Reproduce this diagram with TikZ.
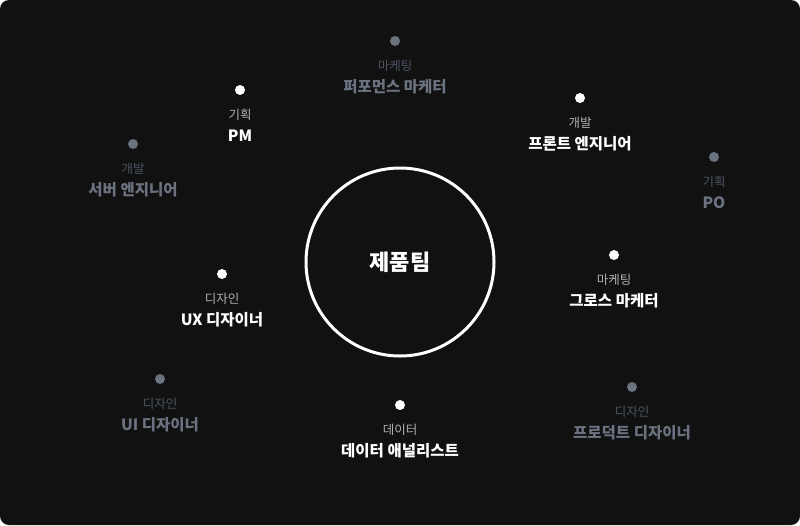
\documentclass[tikz,border=0pt]{standalone}
\usepackage{fontspec}
\setmainfont{Noto Sans CJK KR}
\usetikzlibrary{positioning}

\definecolor{boardBg}{HTML}{111111}
\definecolor{dimDot}{HTML}{6B7280}
\definecolor{dimCat}{HTML}{4B5361}
\definecolor{dimTitle}{HTML}{6B7280}
\definecolor{liveCat}{HTML}{B0B0B0}

\tikzset{
    dotOn/.style={circle, fill=white, inner sep=0pt, minimum size=10pt},
    dotOff/.style={dotOn, fill=dimDot},
    catOn/.style={font=\fontsize{12.5}{12.5}\selectfont, text=liveCat, inner sep=0pt, text height=10pt, text depth=2pt},
    catOff/.style={catOn, text=dimCat},
    titleOn/.style={font=\fontsize{15.5}{15.5}\selectfont\bfseries, text=white, inner sep=0pt, text height=12pt, text depth=2.5pt},
    titleOff/.style={titleOn, text=dimTitle},
    teamCircle/.style={circle, draw=white, line width=3pt, minimum size=188pt, font=\fontsize{22}{22}\selectfont\bfseries, text=white}
}

\begin{document}
\begin{tikzpicture}[x=1pt, y=-1pt]
    \fill[white] (0,0) rectangle (800,525);
    \fill[boardBg, rounded corners=9pt] (0,0) rectangle (800,525);

    \node[teamCircle] (ProductTeam) at (400,262) {제품팀};

    \node[dotOff] (PerfDot) at (395,41) {};
    \node[catOff, below=14pt of PerfDot] (PerfCat) {마케팅};
    \node[titleOff, below=8pt of PerfCat] (Perf) {퍼포먼스 마케터};

    \node[dotOn] (PmDot) at (240,90) {};
    \node[catOn, below=14pt of PmDot] (PmCat) {기획};
    \node[titleOn, below=8pt of PmCat] (Pm) {PM};

    \node[dotOn] (FrontDot) at (580,98) {};
    \node[catOn, below=14pt of FrontDot] (FrontCat) {개발};
    \node[titleOn, below=8pt of FrontCat] (Front) {프론트 엔지니어};

    \node[dotOff] (ServerDot) at (133,144) {};
    \node[catOff, below=14pt of ServerDot] (ServerCat) {개발};
    \node[titleOff, below=8pt of ServerCat] (Server) {서버 엔지니어};

    \node[dotOff] (PoDot) at (714,157) {};
    \node[catOff, below=14pt of PoDot] (PoCat) {기획};
    \node[titleOff, below=8pt of PoCat] (Po) {PO};

    \node[dotOn] (GrowthDot) at (614,255) {};
    \node[catOn, below=14pt of GrowthDot] (GrowthCat) {마케팅};
    \node[titleOn, below=8pt of GrowthCat] (Growth) {그로스 마케터};

    \node[dotOn] (UxDot) at (222,274) {};
    \node[catOn, below=14pt of UxDot] (UxCat) {디자인};
    \node[titleOn, below=8pt of UxCat] (Ux) {UX 디자이너};

    \node[dotOff] (UiDot) at (160,379) {};
    \node[catOff, below=14pt of UiDot] (UiCat) {디자인};
    \node[titleOff, below=8pt of UiCat] (Ui) {UI 디자이너};

    \node[dotOff] (ProdDot) at (632,387) {};
    \node[catOff, below=14pt of ProdDot] (ProdCat) {디자인};
    \node[titleOff, below=8pt of ProdCat] (Prod) {프로덕트 디자이너};

    \node[dotOn] (DataDot) at (400,405) {};
    \node[catOn, below=14pt of DataDot] (DataCat) {데이터};
    \node[titleOn, below=8pt of DataCat] (Data) {데이터 애널리스트};
\end{tikzpicture}
\end{document}
